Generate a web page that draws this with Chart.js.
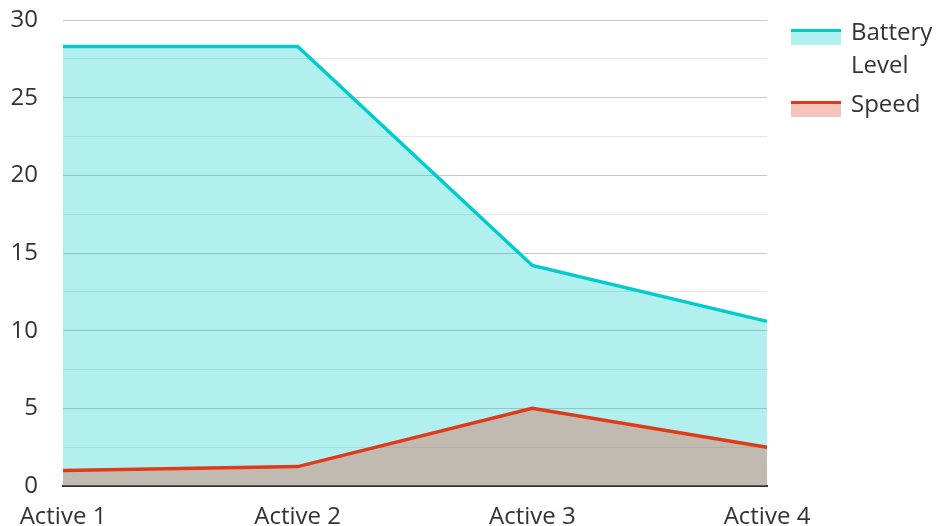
<!DOCTYPE html>
<html>
<head>
<meta charset="utf-8">
<script src="https://cdn.jsdelivr.net/npm/chart.js@4/dist/chart.umd.min.js"></script>
<style>
  html, body { margin: 0; padding: 0; background: #fff; }
  #wrap { position: relative; width: 939px; height: 526px; overflow: hidden; }
  #legend { position: absolute; left: 791px; top: 14px; font-family: 'Open Sans', sans-serif; font-size: 24px; color: #333; }
  .item { display: flex; align-items: flex-start; margin-bottom: 6px; }
  .box { width: 50px; height: 13px; margin-top: 15px; margin-right: 10px; }
  .txt { line-height: 33px; }
</style>
</head>
<body>
<div id="wrap">
  <canvas id="chart" width="939" height="526"></canvas>
  <div id="legend"></div>
</div>
<script>
// dados
const categories = ['Active 1', 'Active 2', 'Active 3', 'Active 4'];
const batteryLevel = [28.3, 28.3, 14.2, 10.6];
const speed = [1.0, 1.25, 5.0, 2.5];

const cyan = '#00cccc';
const red = '#e03a1a';

document.addEventListener('DOMContentLoaded', function() {
    Chart.defaults.font.family = "'Open Sans', sans-serif";
    Chart.defaults.color = '#333333';

    const ctx = document.getElementById('chart').getContext('2d');
    new Chart(ctx, {
        type: 'line',
        data: {
            labels: categories,
            datasets: [{
                label: 'Battery Level',
                data: batteryLevel,
                borderColor: cyan,
                backgroundColor: 'rgba(0,204,204,0.3)',
                borderWidth: 3.5,
                fill: 'origin',
                pointRadius: 0,
                tension: 0,
                order: 2
            }, {
                label: 'Speed',
                data: speed,
                borderColor: red,
                backgroundColor: 'rgba(224,58,26,0.3)',
                borderWidth: 3.5,
                fill: 'origin',
                pointRadius: 0,
                tension: 0,
                order: 1
            }]
        },
        options: {
            responsive: false,
            animation: false,
            layout: { padding: { top: 20, right: 172, bottom: 0, left: 10 } },
            plugins: { legend: { display: false }, tooltip: { enabled: false } },
            scales: {
                x: {
                    offset: false,
                    grid: { display: false, drawTicks: false },
                    border: { color: '#333333', width: 2 },
                    ticks: { font: { size: 24 }, padding: 17, maxRotation: 0 },
                    // labels podem sair da área do gráfico, como no original
                    afterFit: function(s) { s.height = 40; s.paddingLeft = 0; s.paddingRight = 0; }
                },
                y: {
                    min: 0,
                    max: 30,
                    border: { display: false },
                    grid: {
                        drawTicks: false,
                        color: function(c) {
                            return c.tick && c.tick.value % 5 === 0 ? '#c8c8c8' : '#e6e6e6';
                        }
                    },
                    ticks: {
                        stepSize: 2.5,
                        font: { size: 24 },
                        padding: 25,
                        callback: function(v) { return v % 5 === 0 ? v : ''; }
                    },
                    afterFit: function(s) { s.width = 53; s.paddingTop = 0; s.paddingBottom = 0; }
                }
            }
        }
    });

    // legenda customizada no HTML
    const legend = document.getElementById('legend');
    [['Battery<br>Level', cyan, 'rgba(0,204,204,0.3)'], ['Speed', red, 'rgba(224,58,26,0.3)']].forEach(function(it) {
        const d = document.createElement('div');
        d.className = 'item';
        d.innerHTML = '<div class="box" style="border-top:3.5px solid ' + it[1] + ';background:' + it[2] + '"></div><div class="txt">' + it[0] + '</div>';
        legend.appendChild(d);
    });
});
</script>
</body>
</html>
